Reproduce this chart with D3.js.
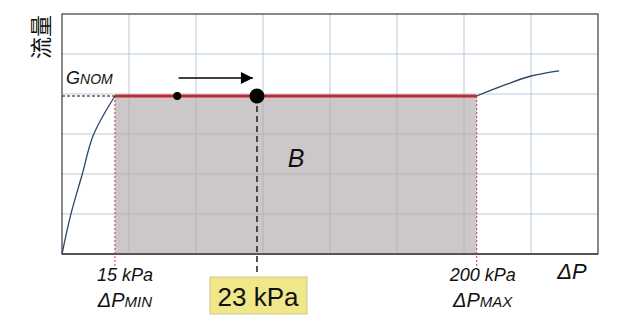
<!DOCTYPE html>
<html>
<head>
<meta charset="utf-8">
<script src="https://cdn.jsdelivr.net/npm/d3@7"></script>
<style>
  body { margin: 0; background: #fff; }
  text { font-family: "Liberation Sans", Helvetica, Arial, sans-serif; }
</style>
</head>
<body>
<div id="chart"></div>
<script>
// grid units: x 0..8 columns, y 0..6 rows
const xTicks = [0, 1, 2, 3, 4, 5, 6, 7, 8];
const yTicks = [0, 1, 2, 3, 4, 5, 6];
const leftCurve = [[0, 0], [0.13, 0.98], [0.30, 1.98], [0.47, 2.98], [0.79, 3.95]];
const rightCurve = [[6.19, 3.95], [6.6, 4.22], [7.0, 4.45], [7.42, 4.58]];
const gNom = 3.95;
const pMin = 0.79, pMax = 6.19;
const dots = [{ x: 1.72, r: 4 }, { x: 2.91, r: 7.5 }];
const arrowFrom = 1.74, arrowTo = 2.85, arrowY = 4.4;
const minLabels = ['15 kPa', 'MIN'];
const maxLabels = ['200 kPa', 'MAX'];
const opLabel = '23 kPa';

const width = 640, height = 332;
const margin = { top: 14, right: 42, bottom: 78, left: 62 };

const svg = d3.select('#chart').append('svg')
  .attr('width', width)
  .attr('height', height);

const x = d3.scaleLinear().domain([0, 8]).range([margin.left, width - margin.right]);
const y = d3.scaleLinear().domain([0, 6]).range([height - margin.bottom, margin.top]);

// Grid
svg.append('g').selectAll('line.v')
  .data(xTicks.slice(1, -1))
  .enter().append('line')
  .attr('x1', d => x(d)).attr('x2', d => x(d))
  .attr('y1', y(0)).attr('y2', y(6))
  .attr('stroke', '#b9c9dc').attr('stroke-width', 1);

svg.append('g').selectAll('line.h')
  .data(yTicks.slice(1, -1))
  .enter().append('line')
  .attr('x1', x(0)).attr('x2', x(8))
  .attr('y1', d => y(d)).attr('y2', d => y(d))
  .attr('stroke', '#b9c9dc').attr('stroke-width', 1);

// Gray area B
svg.append('rect')
  .attr('x', x(pMin)).attr('y', y(gNom))
  .attr('width', x(pMax) - x(pMin))
  .attr('height', y(0) - y(gNom))
  .attr('fill', '#aca6a8').attr('fill-opacity', 0.62);

// Frame
svg.append('rect')
  .attr('x', x(0)).attr('y', y(6))
  .attr('width', x(8) - x(0)).attr('height', y(0) - y(6))
  .attr('fill', 'none').attr('stroke', '#3a3a3a').attr('stroke-width', 1.2);
svg.append('line')
  .attr('x1', x(0)).attr('x2', x(8)).attr('y1', y(0)).attr('y2', y(0))
  .attr('stroke', '#555').attr('stroke-width', 2);

// Red dotted verticals
[pMin, pMax].forEach(p => {
  svg.append('line')
    .attr('x1', x(p)).attr('x2', x(p))
    .attr('y1', y(gNom)).attr('y2', y(0) + 14)
    .attr('stroke', '#d2343c').attr('stroke-width', 1)
    .attr('stroke-dasharray', '2,2');
});

// Curves
const line = d3.line().x(d => x(d[0])).y(d => y(d[1])).curve(d3.curveCatmullRom);
[leftCurve, rightCurve].forEach(c => {
  svg.append('path').attr('d', line(c))
    .attr('fill', 'none').attr('stroke', '#2b4468').attr('stroke-width', 1.3);
});

// GNOM dashed
svg.append('line')
  .attr('x1', x(0)).attr('x2', x(pMin))
  .attr('y1', y(gNom)).attr('y2', y(gNom))
  .attr('stroke', '#111').attr('stroke-width', 1)
  .attr('stroke-dasharray', '3,2');

// Red flat line
svg.append('line')
  .attr('x1', x(pMin)).attr('x2', x(pMax))
  .attr('y1', y(gNom)).attr('y2', y(gNom))
  .attr('stroke', '#c4262e').attr('stroke-width', 3);

// Operating point dashed vertical
svg.append('line')
  .attr('x1', x(dots[1].x)).attr('x2', x(dots[1].x))
  .attr('y1', y(gNom)).attr('y2', y(0) + 18)
  .attr('stroke', '#222').attr('stroke-width', 1.5)
  .attr('stroke-dasharray', '6,4');

// Dots
svg.selectAll('circle.pt')
  .data(dots)
  .enter().append('circle')
  .attr('cx', d => x(d.x)).attr('cy', y(gNom))
  .attr('r', d => d.r).attr('fill', '#000');

// Arrow
svg.append('defs').append('marker')
  .attr('id', 'ah').attr('viewBox', '0 0 10 10')
  .attr('refX', 10).attr('refY', 5)
  .attr('markerWidth', 16).attr('markerHeight', 12)
  .attr('markerUnits', 'userSpaceOnUse')
  .attr('orient', 'auto')
  .append('path').attr('d', 'M0,0L10,5L0,10Z').attr('fill', '#000');
svg.append('line')
  .attr('x1', x(arrowFrom)).attr('x2', x(arrowTo))
  .attr('y1', y(arrowY)).attr('y2', y(arrowY))
  .attr('stroke', '#000').attr('stroke-width', 1.5)
  .attr('marker-end', 'url(#ah)');

// Labels
svg.append('text')
  .attr('transform', `translate(49,37) rotate(-90)`)
  .attr('text-anchor', 'middle')
  .style('font-family', '"Noto Sans CJK SC", sans-serif')
  .style('font-size', '22px').attr('fill', '#111')
  .text('流量');

const gn = svg.append('text').attr('x', 66).attr('y', 84)
  .style('font-style', 'italic').attr('fill', '#111');
gn.append('tspan').style('font-size', '18px').text('G');
gn.append('tspan').style('font-size', '14px').text('NOM');

svg.append('text').attr('x', 296).attr('y', 167)
  .attr('text-anchor', 'middle')
  .style('font-style', 'italic').style('font-size', '25px').attr('fill', '#111')
  .text('B');

function pLabel(px, labels) {
  svg.append('text').attr('x', px).attr('y', 281)
    .attr('text-anchor', 'middle')
    .style('font-style', 'italic').style('font-size', '18px').attr('fill', '#111')
    .text(labels[0]);
  const t = svg.append('text').attr('x', px).attr('y', 307)
    .attr('text-anchor', 'middle')
    .style('font-style', 'italic').attr('fill', '#111');
  t.append('tspan').style('font-size', '20px').text('ΔP');
  t.append('tspan').style('font-size', '15px').text(labels[1]);
}
pLabel(x(pMin) + 10, minLabels);
pLabel(x(pMax) + 6, maxLabels);

svg.append('text').attr('x', 572).attr('y', 279)
  .attr('text-anchor', 'middle')
  .style('font-style', 'italic').style('font-size', '22px').attr('fill', '#111')
  .text('ΔP');

// Operating value box
const bx = x(dots[1].x);
svg.append('rect')
  .attr('x', bx - 47).attr('y', 277)
  .attr('width', 97).attr('height', 37)
  .attr('fill', '#f0e68a').attr('stroke', '#cfc68a').attr('stroke-width', 1);
svg.append('text').attr('x', bx + 1).attr('y', 306)
  .attr('text-anchor', 'middle')
  .style('font-size', '26px').attr('fill', '#111')
  .text(opLabel);
</script>
</body>
</html>
